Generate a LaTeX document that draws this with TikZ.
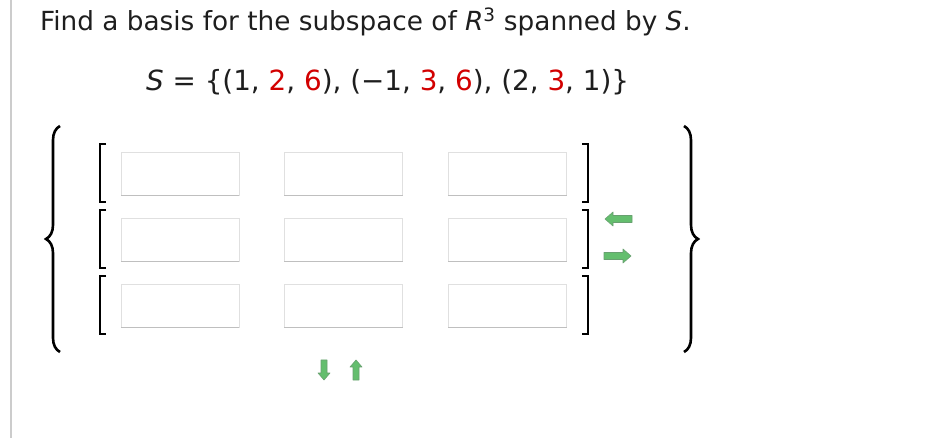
\documentclass[tikz,border=0pt]{standalone}
\usepackage{fontspec}
\setmainfont{DejaVu Sans}
\usetikzlibrary{decorations.pathreplacing}
\definecolor{qred}{RGB}{210,0,0}
\definecolor{agreen}{RGB}{100,190,110}
\definecolor{agreend}{RGB}{40,120,50}
\definecolor{txt}{RGB}{30,30,30}
\tikzset{
  inbox/.style={draw=black!12, fill=white, minimum width=118pt, minimum height=43pt, inner sep=0pt},
  brk/.style={line width=2pt},
  brc/.style={line width=2.6pt, decorate, decoration={brace, amplitude=14pt}},
  garrow/.style={draw=agreend!70, fill=agreen, line width=0.6pt, line join=round}
}
\begin{document}
\begin{tikzpicture}[x=1pt,y=-1pt]
\useasboundingbox (0,0) rectangle (940,438);
\fill[black!20] (10,0) rectangle (12,438);
\node[anchor=base west, text=txt, font=\fontsize{26.3}{30}\selectfont, inner sep=0pt] (title) at (40,31) {Find a basis for the subspace of \textit{R}\textsuperscript{3} spanned by \textit{S}.};
\node[anchor=base west, text=txt, font=\fontsize{27.8}{30}\selectfont, inner sep=0pt] (set) at (146,91) {\textit{S} = \{(1, \textcolor{qred}{2}, \textcolor{qred}{6}), (−1, \textcolor{qred}{3}, \textcolor{qred}{6}), (2, \textcolor{qred}{3}, 1)\}};
\foreach \r/\y in {1/173.5,2/239.5,3/305.5}{
  \foreach \c/\x in {1/180,2/343.5,3/507.5}{
    \node[inbox] (b\r\c) at (\x,\y) {};
    \draw[black!25, line width=1pt] (b\r\c.south west) -- (b\r\c.south east);
  }
  \draw[brk] (106,\y-29) -- (100,\y-29) -- (100,\y+29) -- (106,\y+29);
  \draw[brk] (582,\y-29) -- (588,\y-29) -- (588,\y+29) -- (582,\y+29);
}
\draw[brc] (60,352) -- (60,126);
\draw[brc] (684,126) -- (684,352);
\coordinate (al) at (618,219);
\draw[garrow] ([shift={(14,-3.5)}]al) -- ([shift={(-5,-3.5)}]al) -- ([shift={(-5,-7)}]al) -- ([shift={(-13,0)}]al) -- ([shift={(-5,7)}]al) -- ([shift={(-5,3.5)}]al) -- ([shift={(14,3.5)}]al) -- cycle;
\coordinate (ar) at (618,256);
\draw[garrow] ([shift={(-14,-3.5)}]ar) -- ([shift={(5,-3.5)}]ar) -- ([shift={(5,-7)}]ar) -- ([shift={(13,0)}]ar) -- ([shift={(5,7)}]ar) -- ([shift={(5,3.5)}]ar) -- ([shift={(-14,3.5)}]ar) -- cycle;
\coordinate (ad) at (324,370);
\draw[garrow] ([shift={(-3,-10)}]ad) -- ([shift={(-3,3)}]ad) -- ([shift={(-6,3)}]ad) -- ([shift={(0,10)}]ad) -- ([shift={(6,3)}]ad) -- ([shift={(3,3)}]ad) -- ([shift={(3,-10)}]ad) -- cycle;
\coordinate (au) at (356,370);
\draw[garrow] ([shift={(-3,10)}]au) -- ([shift={(-3,-3)}]au) -- ([shift={(-6,-3)}]au) -- ([shift={(0,-10)}]au) -- ([shift={(6,-3)}]au) -- ([shift={(3,-3)}]au) -- ([shift={(3,10)}]au) -- cycle;
\end{tikzpicture}
\end{document}
